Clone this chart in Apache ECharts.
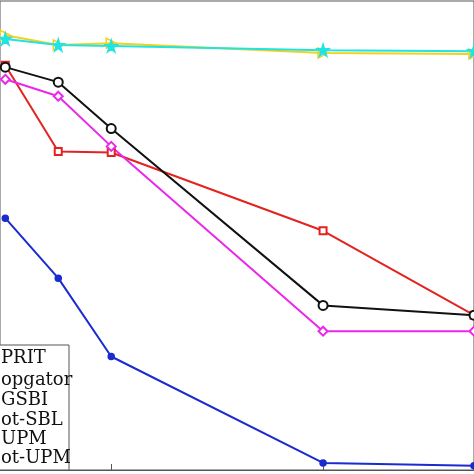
<!DOCTYPE html>
<html><head><meta charset="utf-8">
<script src="https://cdn.jsdelivr.net/npm/echarts@6/dist/echarts.min.js"></script>
<style>html,body{margin:0;padding:0;background:#fff}#c{width:474px;height:474px}</style>
</head><body><div id="c"></div>
<script>
// x positions of the runs, last one sits on the right edge
const xs = [0, 1, 2, 6, 8.85];
const yellowVals = [92.7, 90.6, 91.0, 88.9, 88.7];
const cyanVals = [91.9, 90.6, 90.4, 89.5, 89.3];
const redVals = [86.3, 67.9, 67.7, 51.0, 33.0];
const blackVals = [85.9, 82.7, 72.8, 35.1, 33.0];
const magentaVals = [83.3, 79.7, 69.0, 29.6, 29.6];
const blueVals = [53.7, 40.9, 24.2, 1.5, 0.9];
const tickVals = [2, 6];
const legendLabels = ['PRIT', 'opgator', 'GSBI', 'ot-SBL', 'UPM', 'ot-UPM'];

const star = 'path://M50,0 L61,35 L98,35 L68,57 L79,91 L50,70 L21,91 L32,57 L2,35 L39,35 Z';
const pts = v => xs.map((x, i) => [x, v[i]]);
function line(data, color, symbol, size, extra) {
    return Object.assign({
        type: 'line', data: pts(data), symbol: symbol, symbolSize: size,
        lineStyle: { color: color, width: 2 },
        itemStyle: { color: color, borderColor: color, borderWidth: 1.5 },
        animation: false
    }, extra || {});
}

let chart = echarts.init(document.getElementById('c'));
chart.setOption({
    grid: { left: 0, right: 0, top: 1, bottom: 4, show: true, borderColor: '#555', borderWidth: 1 },
    xAxis: {
        type: 'value', min: -0.1, max: 8.85,
        axisLine: { lineStyle: { color: '#555' } },
        axisTick: { inside: true, length: 6, customValues: tickVals, lineStyle: { color: '#555' } },
        axisLabel: { show: false }, splitLine: { show: false }
    },
    yAxis: {
        type: 'value', min: 0, max: 100,
        axisLine: { show: false }, axisTick: { show: false },
        axisLabel: { show: false }, splitLine: { show: false }
    },
    series: [
        line(yellowVals, '#f2d21b', 'triangle', 10, { symbolRotate: -90, itemStyle: { color: 'transparent', borderColor: '#f2d21b', borderWidth: 1.5 } }),
        line(cyanVals, '#22e3e3', star, 12),
        line(redVals, '#e3231f', 'emptyRect', 7),
        line(blackVals, '#111111', 'emptyCircle', 9),
        line(magentaVals, '#ea28ea', 'emptyDiamond', 9),
        line(blueVals, '#1a2bd0', 'circle', 6)
    ],
    graphic: [
        { type: 'rect', shape: { x: -10, y: 345, width: 79, height: 125 }, style: { fill: '#fff', stroke: '#555', lineWidth: 1 } }
    ].concat(legendLabels.map((t, i) => ({
        type: 'text', x: 1, y: [358, 380, 400, 420, 439, 458][i],
        style: { text: t, font: '18px "DejaVu Serif", serif', fill: '#111', verticalAlign: 'middle' }
    })))
});
</script></body></html>
